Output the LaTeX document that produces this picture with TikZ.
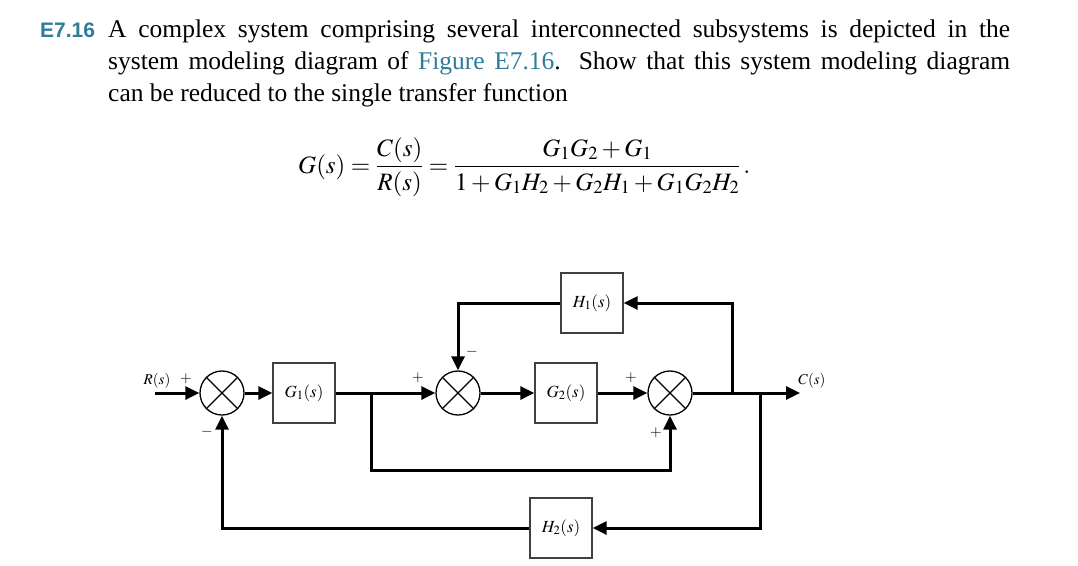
\documentclass[tikz,border=0pt]{standalone}
\usepackage{amsmath}
\usepackage{mathptmx}
\usepackage{fontspec}
\setmainfont{Liberation Serif}
\usetikzlibrary{arrows.meta}
\definecolor{teal1}{HTML}{2E7D9A}
\begin{document}
\begin{tikzpicture}[x=1pt,y=-1pt,
  blk/.style={draw,line width=1.3pt,draw=black!75,minimum width=62pt,minimum height=60pt,inner sep=0,font=\fontsize{17}{17}\selectfont},
  sumj/.style={draw,line width=1.3pt,circle,minimum size=44pt,inner sep=0},
  sig/.style={line width=3pt,-{Triangle[length=14pt,width=13pt]}},
  sg/.style={font=\fontsize{15}{15}\selectfont},
  txt/.style={anchor=base west,inner sep=0,font=\fontsize{25.5}{28}\selectfont}]
\useasboundingbox (0,0) rectangle (1078,565);
\fill[white] (0,0) rectangle (1078,565);
% text
\node[txt,text=teal1] (num) at (40,37) {\bfseries\fontspec{Liberation Sans}\fontsize{21}{24}\selectfont E7.16};
\node[txt] (l1) at (108,37) {\makebox[902pt][s]{A complex system comprising several interconnected subsystems is depicted in the}};
\node[txt] (l2) at (108,69) {\makebox[902pt][s]{system modeling diagram of \textcolor{teal1}{Figure E7.16}. Show that this system modeling diagram}};
\node[txt] (l3) at (108,101) {can be reduced to the single transfer function};
\node[anchor=base west,inner sep=0,font=\fontsize{25}{28}\selectfont] (eq) at (298,173)
 {$G(s)=\dfrac{C(s)}{R(s)}=\dfrac{G_1G_2+G_1}{1+G_1H_2+G_2H_1+G_1G_2H_2}\,.$};
% blocks
\node[sumj] (s1) at (222,393) {};
\node[blk] (g1) at (304,393) {$G_1(s)$};
\node[sumj] (s2) at (458,393) {};
\node[blk] (g2) at (566,393) {$G_2(s)$};
\node[sumj] (s3) at (670,393) {};
\node[blk] (h1) at (592,303) {$H_1(s)$};
\node[blk] (h2) at (561,528) {$H_2(s)$};
\foreach \s in {s1,s2,s3}{
  \draw[line width=1.3pt] (\s.north east)--(\s.south west) (\s.north west)--(\s.south east);}
\coordinate (rin) at (155,393);
\coordinate (cout) at (800,393);
\coordinate (b1) at (371,393);
\coordinate (b2) at (732,393);
\coordinate (b3) at (760,393);
% connectors
\draw[sig] (rin) -- (s1);
\draw[sig] (s1) -- (g1);
\draw[sig] (g1) -- (s2);
\draw[sig] (s2) -- (g2);
\draw[sig] (g2) -- (s3);
\draw[sig] (s3) -- (cout);
\draw[sig] (b2) |- (h1);
\draw[sig] (h1) -| (s2);
\draw[sig] (b1) |- (670,470) -- (s3);
\draw[sig] (b3) |- (h2);
\draw[sig] (h2) -| (s1);
% labels
\node[sg,anchor=base] (lr) at (157,384) {$R(s)$};
\node[sg] (p1) at (186,379) {$+$};
\node[sg] (m1) at (207,432) {$-$};
\node[sg] (p2) at (418,378) {$+$};
\node[sg] (m2) at (472,352) {$-$};
\node[sg] (p3) at (631,378) {$+$};
\node[sg] (p4) at (656,433) {$+$};
\node[sg,anchor=base] (lc) at (812,384) {$C(s)$};
\end{tikzpicture}
\end{document}
